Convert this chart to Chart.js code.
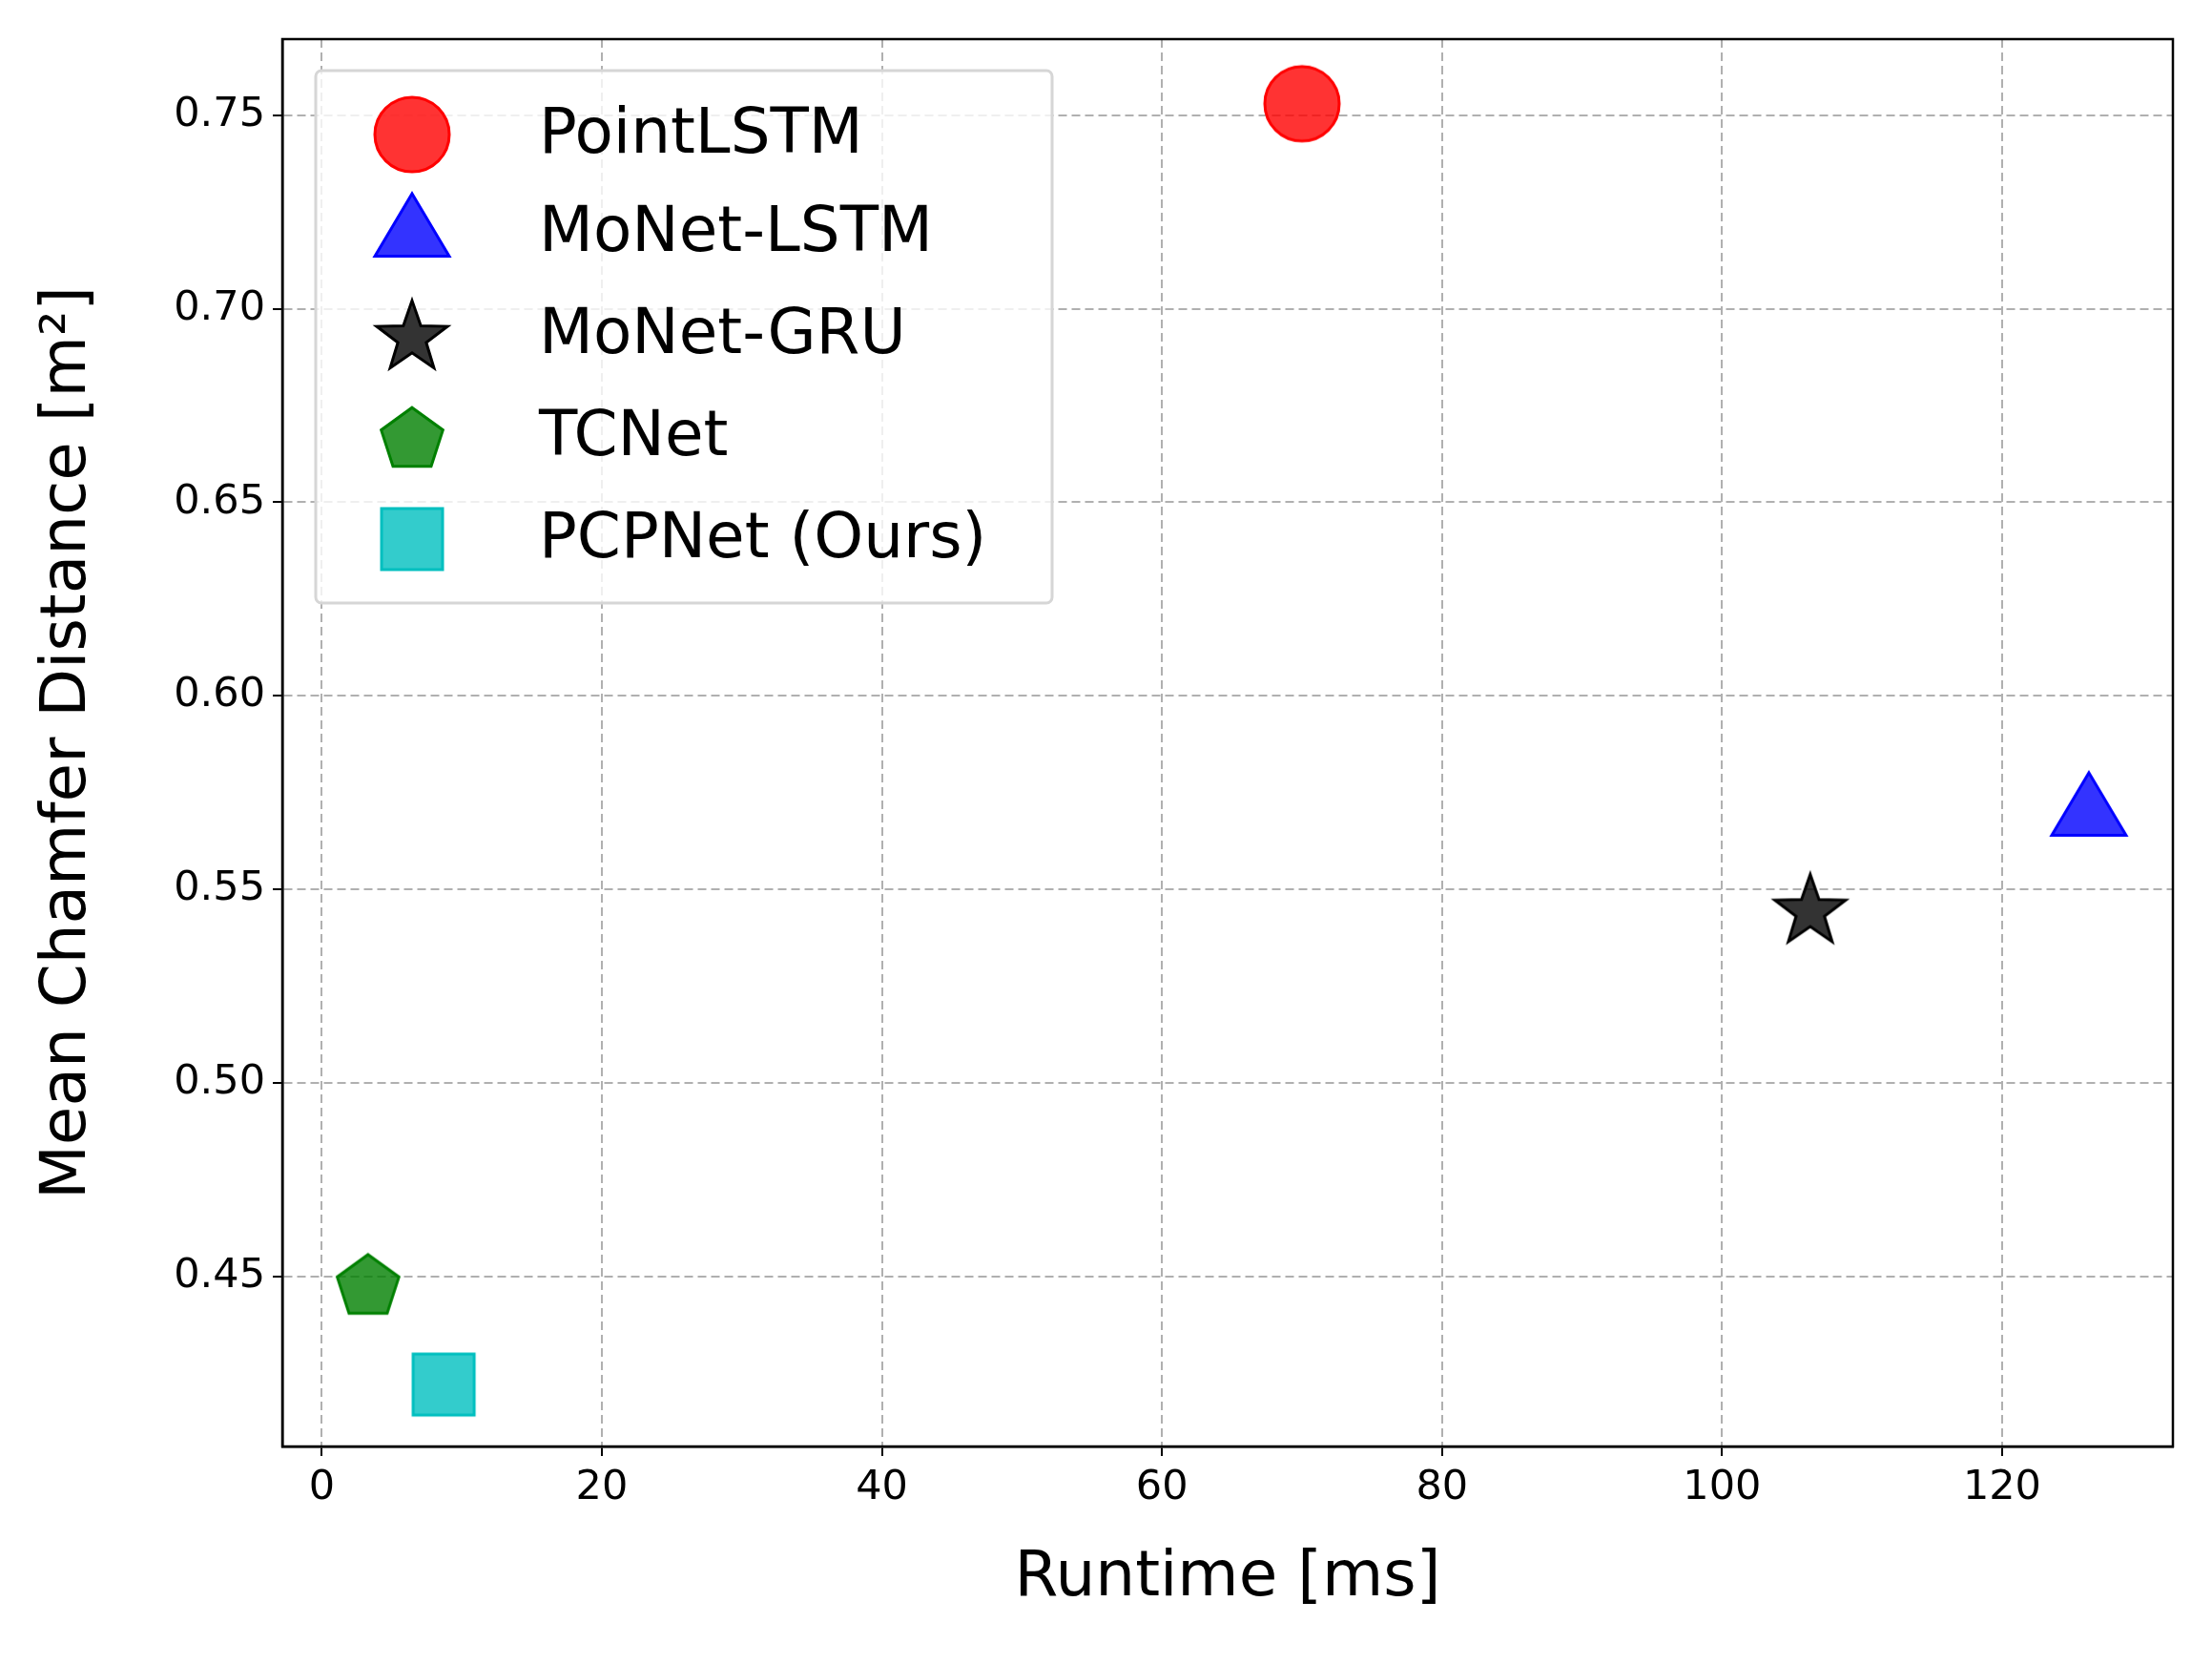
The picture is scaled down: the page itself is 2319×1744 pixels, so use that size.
<!DOCTYPE html>
<html><head><meta charset="utf-8">
<script src="https://cdn.jsdelivr.net/npm/chart.js@4/dist/chart.umd.min.js"></script>
<style>html,body{margin:0;padding:0;background:#fff}#w{width:2319px;height:1744px}</style>
</head><body><div id="w"><canvas id="c"></canvas></div>
<script>
const labels = ["PointLSTM","MoNet-LSTM","MoNet-GRU","TCNet","PCPNet (Ours)"];
const runtimes = [70.0, 126.2, 106.3, 3.3, 8.7];
const chamfer = [0.753, 0.570, 0.545, 0.448, 0.422];
const xTicks = [0,20,40,60,80,100,120];
const yTicks = [0.45,0.50,0.55,0.60,0.65,0.70,0.75];
const colors = [["rgba(255,0,0,0.8)","#ff0000"],["rgba(0,0,255,0.8)","#0000ff"],["rgba(0,0,0,0.8)","#000000"],["rgba(0,128,0,0.8)","#008000"],["rgba(0,191,191,0.8)","#00bfbf"]];
const shapes = ["circle","triangle","star","pentagon","square"];
function marker(shape, fill, stroke, s){
  const c=document.createElement('canvas'); c.width=c.height=s; const g=c.getContext('2d');
  const r=s/2-4, cx=s/2, cy=s/2; g.beginPath();
  if(shape==='circle'){g.arc(cx,cy,r,0,Math.PI*2);}
  else if(shape==='square'){const h=r*0.8;g.rect(cx-h,cy-h,2*h,2*h);}
  else if(shape==='triangle'){g.moveTo(cx,cy-r);g.lineTo(cx+r*0.95,cy+r*0.6);g.lineTo(cx-r*0.95,cy+r*0.6);g.closePath();}
  else if(shape==='pentagon'){for(let i=0;i<5;i++){const a=-Math.PI/2+i*2*Math.PI/5;const R=r*0.85;g.lineTo(cx+R*Math.cos(a),cy+R*Math.sin(a)+r*0.08);}g.closePath();}
  else if(shape==='star'){for(let i=0;i<10;i++){const a=-Math.PI/2+i*Math.PI/5;const R=i%2?r*0.4:r*1.0;g.lineTo(cx+R*Math.cos(a),cy+R*Math.sin(a)+r*0.08);}g.closePath();}
  g.fillStyle=fill;g.fill();g.lineWidth=3;g.strokeStyle=stroke;g.stroke();return c;
}
const sizes=[86,90,86,88,88];
const imgs = shapes.map((s,i)=>marker(s,colors[i][0],colors[i][1],sizes[i]));
const datasets = labels.map((l,i)=>({label:l,data:[{x:runtimes[i],y:chamfer[i]}],pointStyle:imgs[i],pointRadius:40}));
const F="DejaVu Sans";
const legendPlugin={id:'lg',afterDraw(ch){const g=ch.ctx;g.save();
  const x0=331,y0=74,w=772,h=558;g.beginPath();g.roundRect(x0,y0,w,h,6);g.fillStyle='rgba(255,255,255,0.8)';g.fill();g.strokeStyle='#d6d6d6';g.lineWidth=3;g.stroke();
  const ys=[141,244,351,458,565];g.font='66px "'+F+'"';g.fillStyle='#000';g.textBaseline='middle';
  labels.forEach((l,i)=>{g.drawImage(imgs[i],432-sizes[i]/2,ys[i]-sizes[i]/2);g.fillText(l,565,ys[i]+2);});g.restore();}};
new Chart(document.getElementById('c'),{type:'scatter',data:{datasets},
 options:{responsive:true,maintainAspectRatio:false,animation:false,devicePixelRatio:1,
  layout:{padding:{top:38,right:41,left:28,bottom:46}},
  plugins:{legend:{display:false},tooltip:{enabled:false}},
  scales:{
   x:{min:-2.82,max:132.2,afterBuildTicks(a){a.ticks=xTicks.map(v=>({value:v}));},afterFit(a){a.height=182;},
      grid:{color:'#b0b0b0',lineWidth:2,tickColor:'#000',tickLength:10,drawTicks:true},border:{color:'#000',width:2.5,dash:[9,5]},
      ticks:{color:'#000',font:{family:F,size:43},padding:8},
      title:{display:true,text:'Runtime [ms]',color:'#000',font:{family:F,size:66},padding:{top:0}}},
   y:{min:0.406,max:0.7697,afterBuildTicks(a){a.ticks=yTicks.map(v=>({value:v}));},afterFit(a){a.width=268;},
      grid:{color:'#b0b0b0',lineWidth:2,tickColor:'#000',tickLength:10},border:{color:'#000',width:2.5,dash:[9,5]},
      ticks:{color:'#000',font:{family:F,size:43},padding:8,callback:v=>v.toFixed(2)},
      title:{display:true,text:'Mean Chamfer Distance [m²]',color:'#000',font:{family:F,size:66},padding:{bottom:0}}}
  }},
 plugins:[legendPlugin,{id:'frame',afterDraw(ch){const a=ch.chartArea,g=ch.ctx;g.save();g.strokeStyle='#000';g.lineWidth=2.5;g.strokeRect(a.left,a.top,a.right-a.left,a.bottom-a.top);g.restore();}}]
});
</script></body></html>
